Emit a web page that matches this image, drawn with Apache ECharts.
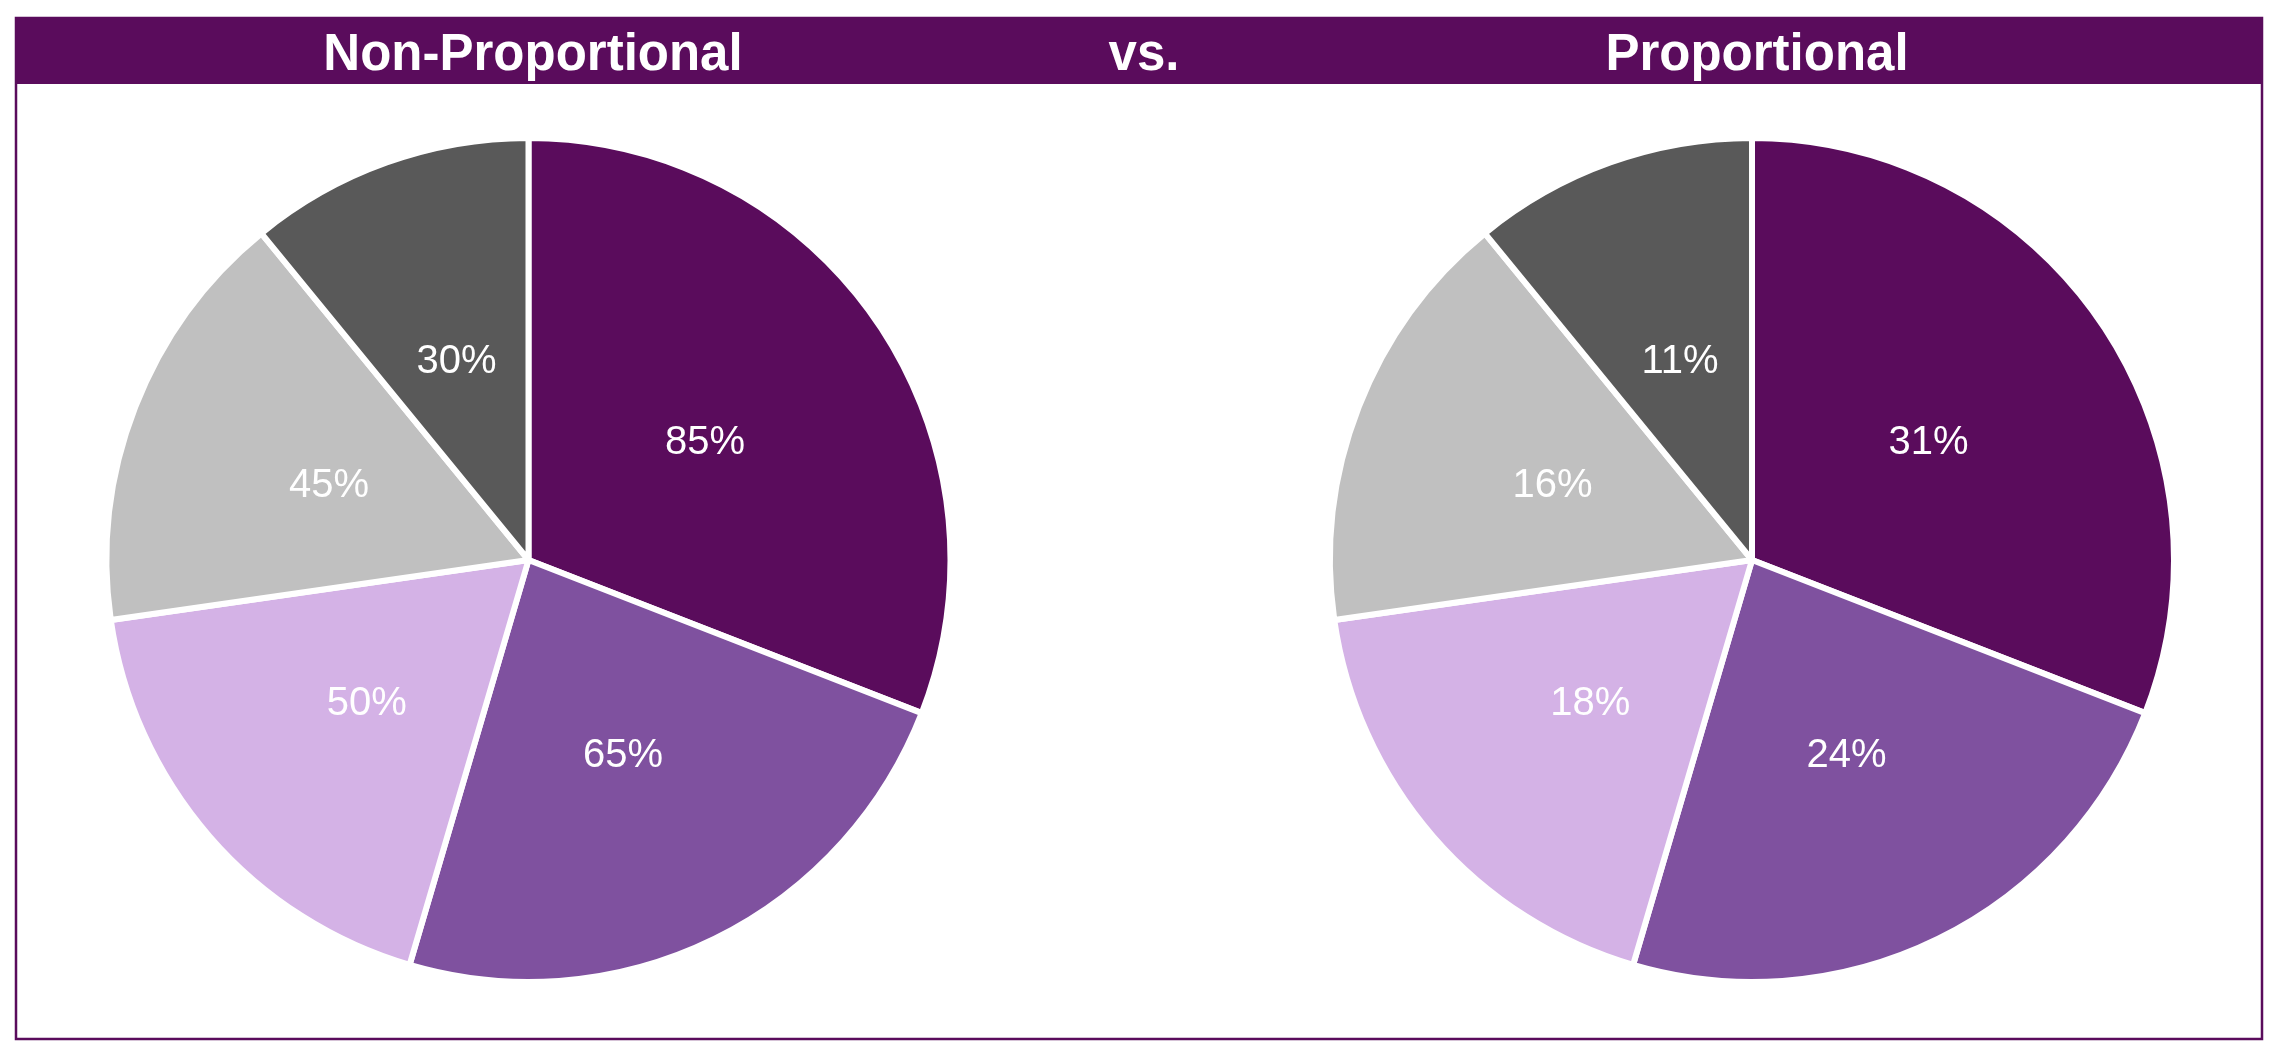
<!DOCTYPE html>
<html>
<head>
<meta charset="utf-8">
<script src="https://cdn.jsdelivr.net/npm/echarts@6/dist/echarts.min.js"></script>
<style>
html,body{margin:0;padding:0;background:#fff;}
#main{width:2280px;height:1056px;}
</style>
</head>
<body>
<div id="main"></div>
<script>
const categories = ['A', 'B', 'C', 'D', 'E'];
const values = [85, 65, 50, 45, 30];
const colors = ['#5A0C5C', '#7F519F', '#D4B2E6', '#C0C0C0', '#595959'];
const headerTitles = ['Non-Proportional', 'vs.', 'Proportional'];

const chart = echarts.init(document.getElementById('main'), null, {renderer: 'canvas'});
const dataItems = categories.map((c, i) => ({name: c, value: values[i], itemStyle: {color: colors[i]}}));

const pieBase = {
  type: 'pie',
  radius: 422,
  startAngle: 90,
  clockwise: true,
  silent: true,
  animation: false,
  percentPrecision: 0,
  itemStyle: {borderColor: '#ffffff', borderWidth: 6},
  labelLine: {show: false},
  emphasis: {disabled: true}
};

const titleStyle = {color: '#fff', fontFamily: 'Liberation Sans', fontWeight: 'bold', fontSize: 51};

chart.setOption({
  backgroundColor: '#ffffff',
  animation: false,
  title: [
    {text: headerTitles[0], left: 528, top: 25, textAlign: 'center', textStyle: titleStyle},
    {text: headerTitles[1], left: 1139, top: 25, textAlign: 'center', textStyle: titleStyle},
    {text: headerTitles[2], left: 1752, top: 25, textAlign: 'center', textStyle: titleStyle}
  ],
  graphic: [
    {type: 'rect', z: -10, shape: {x: 16, y: 18, width: 2247, height: 66}, style: {fill: '#5A0C5C'}},
    {type: 'rect', z: -10, shape: {x: 16, y: 18, width: 2246, height: 1021}, style: {fill: null, stroke: '#5A0C5C', lineWidth: 2.5}}
  ],
  series: [
    Object.assign({}, pieBase, {
      center: [528.5, 560],
      data: dataItems,
      label: {show: true, position: 'inside', color: '#fff', fontFamily: 'Liberation Sans', fontSize: 40,
              offset: [0, 4], formatter: p => p.value + '%'}
    }),
    Object.assign({}, pieBase, {
      center: [1752, 560],
      data: dataItems,
      label: {show: true, position: 'inside', color: '#fff', fontFamily: 'Liberation Sans', fontSize: 40,
              offset: [0, 4], formatter: '{d}%'}
    })
  ]
});
</script>
</body>
</html>
